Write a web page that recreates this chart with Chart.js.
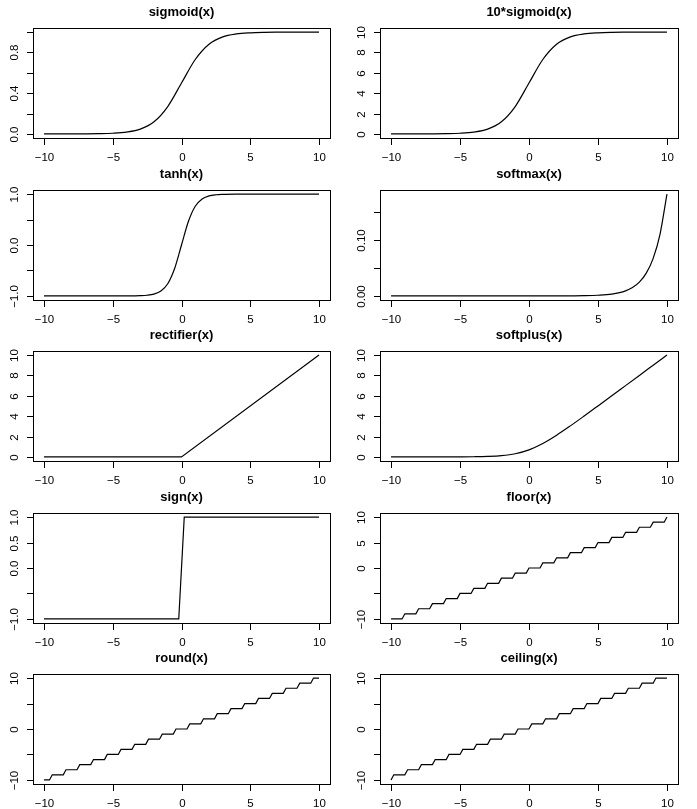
<!DOCTYPE html><html><head><meta charset="utf-8">
<script src="https://cdn.jsdelivr.net/npm/chart.js@4"></script>
<style>body{margin:0;background:#fff;width:697px;height:809px;position:relative;overflow:hidden}
canvas{position:absolute}</style></head><body>
<script>
// ---- data ----
const titles=["sigmoid(x)","10*sigmoid(x)","tanh(x)","softmax(x)","rectifier(x)","softplus(x)","sign(x)","floor(x)","round(x)","ceiling(x)"];
const xTicks=[-10,-5,0,5,10];
const xSmooth=[-10,-9,-8,-7,-6,-5,-4,-3,-2,-1,0,1,2,3,4,5,6,7,8,9,10];
const sigmoidY=[0.00005,0.00012,0.00034,0.0009,0.0025,0.0067,0.018,0.047,0.119,0.269,0.5,0.731,0.881,0.953,0.982,0.993,0.9975,0.9991,0.9997,0.9999,1.0];
const sigmoid10Y=[0.0005,0.0012,0.0034,0.009,0.025,0.067,0.18,0.47,1.19,2.69,5,7.31,8.81,9.53,9.82,9.93,9.975,9.991,9.997,9.999,10];
const tanhX=[-10,-5,-4,-3,-2.5,-2,-1.5,-1,-0.5,0,0.5,1,1.5,2,2.5,3,4,5,10];
const tanhY=[-1,-0.9999,-0.9993,-0.995,-0.987,-0.964,-0.905,-0.762,-0.462,0,0.462,0.762,0.905,0.964,0.987,0.995,0.9993,0.9999,1];
const softmaxX=[-10,0,2,4,5,6,7,7.5,8,8.5,9,9.5,10];
const softmaxY=[0,0.000001,0.00006,0.00045,0.0012,0.0033,0.009,0.0149,0.0245,0.0405,0.0667,0.110,0.181];
const reluX=[-10,0,10], reluY=[0,0,10];
const softplusY=[0.00005,0.0001,0.0003,0.0009,0.0025,0.0067,0.018,0.049,0.127,0.313,0.693,1.313,2.127,3.049,4.018,5.007,6.002,7.001,8.0003,9.0001,10];
const signX=[-10,-0.2,0,0.2,10], signY=[-1,-1,0,1,1];
const floorX=[-10,-9.2,-9,-8.2,-8,-7.2,-7,-6.2,-6,-5.2,-5,-4.2,-4,-3.2,-3,-2.2,-2,-1.2,-1,-0.2,0,0.8,1,1.8,2,2.8,3,3.8,4,4.8,5,5.8,6,6.8,7,7.8,8,8.8,9,9.8,10];
const floorY=[-10,-10,-9,-9,-8,-8,-7,-7,-6,-6,-5,-5,-4,-4,-3,-3,-2,-2,-1,-1,0,0,1,1,2,2,3,3,4,4,5,5,6,6,7,7,8,8,9,9,10];
const roundX=[-10,-9.6,-9.4,-8.6,-8.4,-7.6,-7.4,-6.6,-6.4,-5.6,-5.4,-4.6,-4.4,-3.6,-3.4,-2.6,-2.4,-1.6,-1.4,-0.6,-0.4,0.4,0.6,1.4,1.6,2.4,2.6,3.4,3.6,4.4,4.6,5.4,5.6,6.4,6.6,7.4,7.6,8.4,8.6,9.4,9.6,10];
const roundY=[-10,-10,-9,-9,-8,-8,-7,-7,-6,-6,-5,-5,-4,-4,-3,-3,-2,-2,-1,-1,0,0,1,1,2,2,3,3,4,4,5,5,6,6,7,7,8,8,9,9,10,10];
const ceilX=[-10,-9.8,-9,-8.8,-8,-7.8,-7,-6.8,-6,-5.8,-5,-4.8,-4,-3.8,-3,-2.8,-2,-1.8,-1,-0.8,0,0.2,1,1.2,2,2.2,3,3.2,4,4.2,5,5.2,6,6.2,7,7.2,8,8.2,9,9.2,10];
const ceilY=[-10,-9,-9,-8,-8,-7,-7,-6,-6,-5,-5,-4,-4,-3,-3,-2,-2,-1,-1,0,0,1,1,2,2,3,3,4,4,5,5,6,6,7,7,8,8,9,9,10,10];
// y tick values and which get labels
const yTicks=[[0,0.2,0.4,0.6,0.8,1],[0,2,4,6,8,10],[-1,-0.5,0,0.5,1],[0,0.05,0.1,0.15],[0,2,4,6,8,10],[0,2,4,6,8,10],[-1,-0.5,0,0.5,1],[-10,-5,0,5,10],[-10,-5,0,5,10],[-10,-5,0,5,10]];
const yLabels=[["0.0","","0.4","","0.8",""],["0","2","4","6","8","10"],["-1.0","","0.0","","1.0"],["0.00","","0.10",""],["0","2","4","6","8","10"],["0","2","4","6","8","10"],["-1.0","","0.0","0.5","1.0"],["-10","","0","5","10"],["-10","","0","","10"],["-10","","0","","10"]];
const series=[[xSmooth,sigmoidY],[xSmooth,sigmoid10Y],[tanhX,tanhY],[softmaxX,softmaxY],[reluX,reluY],[xSmooth,softplusY],[signX,signY],[floorX,floorY],[roundX,roundY],[ceilX,ceilY]];
const smooth=[true,true,true,true,false,true,false,false,false,false];

const W=348,H=162;
const F="'Liberation Sans',Arial,sans-serif";
const rAxis={id:'raxis',afterDraw(c){
  const ctx=c.ctx,a=c.chartArea,xs=c.scales.x,ys=c.scales.y,o=c.options.plugins.raxis;
  ctx.save();ctx.strokeStyle='#000';ctx.fillStyle='#000';ctx.lineWidth=1;
  ctx.strokeRect(Math.round(a.left)+0.5,Math.round(a.top)+0.5,Math.round(a.right-a.left),Math.round(a.bottom-a.top));
  ctx.font='11.5px '+F;ctx.textAlign='center';ctx.textBaseline='top';
  ctx.beginPath();
  xTicks.forEach(v=>{const p=Math.round(xs.getPixelForValue(v))+0.5;ctx.moveTo(p,a.bottom+0.5);ctx.lineTo(p,a.bottom+7);
    ctx.fillText(String(v).replace('-','\u2212'),p,a.bottom+14);});
  o.yt.forEach((v,i)=>{const p=Math.round(ys.getPixelForValue(v))+0.5;ctx.moveTo(a.left+0.5,p);ctx.lineTo(a.left-6,p);
    if(o.yl[i]){ctx.save();ctx.translate(a.left-12,p);ctx.rotate(-Math.PI/2);ctx.textBaseline='bottom';ctx.fillText(o.yl[i].replace('-','\u2212'),0,0);ctx.restore();}});
  ctx.stroke();
  ctx.font='bold 13px '+F;ctx.textBaseline='middle';
  ctx.fillText(o.title,(a.left+a.right)/2,12);
  ctx.restore();}};
for(let i=0;i<10;i++){
  const col=i%2,row=Math.floor(i/2);
  const cv=document.createElement('canvas');
  cv.style.left=(col*W)+'px';cv.style.top=Math.round(row*161.5)+'px';
  cv.style.width=W+'px';cv.style.height=H+'px';cv.width=W;cv.height=H;
  document.body.appendChild(cv);
  const [xa,ya]=series[i];
  const yt=yTicks[i];
  let lo=Math.min(...ya),hi=Math.max(...ya),pad=(hi-lo)*0.04;
  new Chart(cv,{type:'line',
    data:{datasets:[{data:xa.map((x,j)=>({x:x,y:ya[j]})),borderColor:'#000',borderWidth:1.2,pointRadius:0,fill:false,
      cubicInterpolationMode:smooth[i]?'monotone':'default',tension:0}]},
    options:{responsive:false,animation:false,devicePixelRatio:1,
      layout:{padding:{top:28,right:18,left:0,bottom:0}},
      plugins:{legend:{display:false},tooltip:{enabled:false},raxis:{title:titles[i],yt:yt,yl:yLabels[i]}},
      scales:{
        x:{type:'linear',min:-10.8,max:10.8,grid:{display:false},border:{display:false},ticks:{display:false},afterFit(s){s.height=24;}},
        y:{type:'linear',min:lo-pad,max:hi+pad,grid:{display:false},border:{display:false},ticks:{display:false},afterFit(s){s.width=col?32:33;}}
      }},plugins:[rAxis]});
}
</script></body></html>
